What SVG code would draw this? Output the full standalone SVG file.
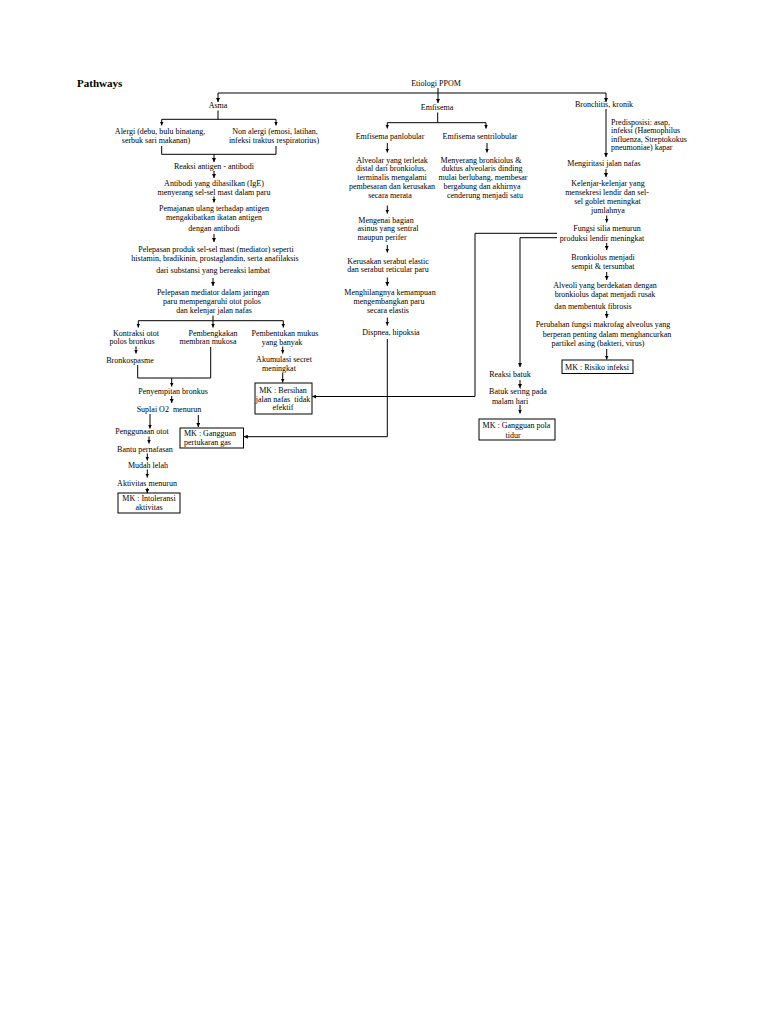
<svg xmlns="http://www.w3.org/2000/svg" width="768" height="1024" viewBox="0 0 768 1024">
<defs>
<marker id="ah" viewBox="0 0 6 6" refX="6" refY="3" markerWidth="4" markerHeight="4" markerUnits="userSpaceOnUse" orient="auto"><path d="M0,0 L6,3 L0,6 z" fill="#000"/></marker>
<style>
text{font-family:"Liberation Serif","Times New Roman",serif;font-size:8px;fill:#000;text-anchor:middle}
.s{text-anchor:start}
.title{font-size:11px;font-weight:bold;text-anchor:start}
.box{fill:#fff;stroke:#000;stroke-width:1}
#connectors path{fill:none;stroke:#000;stroke-width:1}
.a{marker-end:url(#ah)}
</style>
</defs>
<rect width="768" height="1024" fill="#fff"/>
<text class="title" x="77" y="87">Pathways</text>

<g id="connectors">
<path d="M218,93 H606"/>
<path class="a" d="M218,93 V102"/>
<path class="a" d="M606,93 V102"/>
<path class="a" d="M438,88 V103"/>
<path d="M218,110.5 V119.3 M161.7,119.3 H276"/>
<path class="a" d="M161.7,119.3 V125.5"/>
<path class="a" d="M276,119.3 V125.5"/>
<path d="M161.7,146 V154.3 H276 V146"/>
<path class="a" d="M214,154.3 V162"/>
<path class="a" d="M214,171 V178"/>
<path class="a" d="M214,196.5 V202.5"/>
<path class="a" d="M214,234 V242"/>
<path class="a" d="M213,278 V286"/>
<path d="M213,315.5 V320.7 M138.3,320.7 H283.3"/>
<path class="a" d="M138.3,320.7 V327.5"/>
<path class="a" d="M213,320.7 V327.5"/>
<path class="a" d="M283.3,320.7 V327.5"/>
<path class="a" d="M136,346.5 V353.5"/>
<path d="M137.7,365 V378 H210.7 V347"/>
<path class="a" d="M171.7,378 V386.5"/>
<path class="a" d="M171.7,396 V403"/>
<path class="a" d="M150,414 V428.5"/>
<path class="a" d="M198.3,415 V427"/>
<path class="a" d="M149,436.5 V443.5"/>
<path class="a" d="M147.3,453.5 V460.5"/>
<path class="a" d="M147.3,469.5 V477.5"/>
<path class="a" d="M147.3,488 V493"/>
<path class="a" d="M282.7,346.5 V353.5"/>
<path class="a" d="M282.7,373 V382.5"/>
<path d="M437.7,112.5 V122.7 M387.3,122.7 H486"/>
<path class="a" d="M387.3,122.7 V128.5"/>
<path class="a" d="M486,122.7 V128.5"/>
<path class="a" d="M387.3,143 V152.5"/>
<path class="a" d="M487,143 V152.5"/>
<path class="a" d="M387.3,205.5 V213.5"/>
<path class="a" d="M387.3,245 V252.5"/>
<path class="a" d="M387.3,277.5 V286"/>
<path class="a" d="M387.3,317.5 V325.5"/>
<path class="a" d="M387.3,339 V436.7 H243.8"/>
<path class="a" d="M606,109 V157"/>
<path class="a" d="M606,169 V177"/>
<path class="a" d="M606.7,215.5 V222.5"/>
<path class="a" d="M606.7,243 V250"/>
<path class="a" d="M606.7,272 V280"/>
<path class="a" d="M606.7,311 V318"/>
<path class="a" d="M606.7,349 V359.5"/>
<path class="a" d="M557,233.3 H475 V396.5 H312.2"/>
<path class="a" d="M557,237.7 H520 V367"/>
<path class="a" d="M520,380 V388"/>
<path class="a" d="M520,405 V413.5"/>
</g>

<g id="n-etiologi"><text x="436" y="86">Etiologi PPOM</text></g>
<g id="n-asma"><text x="218" y="108">Asma</text></g>
<g id="n-emfisema"><text x="437" y="110">Emfisema</text></g>
<g id="n-bronchitis"><text x="604" y="107">Bronchitis, kronik</text></g>

<g id="n-alergi"><text x="160" y="134">Alergi (debu, bulu binatang,</text><text x="156" y="142.5">serbuk sari makanan)</text></g>
<g id="n-nonalergi"><text x="275" y="134">Non alergi (emosi, latihan,</text><text x="274" y="142.5">infeksi traktus respiratorius)</text></g>
<g id="n-reaksi"><text x="214" y="169">Reaksi antigen - antibodi</text></g>
<g id="n-antibodi"><text x="214" y="186">Antibodi yang dihasilkan (IgE)</text><text x="214" y="194.5">menyerang sel-sel mast dalam paru</text></g>
<g id="n-pemajanan"><text x="214" y="210.5">Pemajanan ulang terhadap antigen</text><text x="214" y="220">mengakibatkan ikatan antigen</text><text x="214" y="231">dengan antibodi</text></g>
<g id="n-pelepasan1"><text x="216" y="251.5">Pelepasan produk sel-sel mast (mediator) seperti</text><text x="215" y="261">histamin, bradikinin, prostaglandin, serta anafilaksis</text><text x="213" y="272.5">dari substansi yang bereaksi lambat</text></g>
<g id="n-pelepasan2"><text x="213" y="294.5">Pelepasan mediator dalam jaringan</text><text x="212" y="303.5">paru mempengaruhi otot polos</text><text x="214" y="313">dan kelenjar jalan nafas</text></g>
<g id="n-kontraksi"><text x="136" y="335.5">Kontraksi otot</text><text x="132" y="344">polos bronkus</text></g>
<g id="n-bronkospasme"><text x="130" y="362.5">Bronkospasme</text></g>
<g id="n-pembengkakan"><text x="213" y="335.5">Pembengkakan</text><text x="208" y="344">membran mukosa</text></g>
<g id="n-pembentukan"><text x="285" y="335.5">Pembentukan mukus</text><text x="282" y="344.5">yang banyak</text></g>
<g id="n-akumulasi"><text x="284" y="362">Akumulasi secret</text><text x="279" y="370.5">meningkat</text></g>
<g id="n-bersihan"><rect class="box" x="255" y="383" width="57" height="31"/><text x="283" y="392.5">MK : Bersihan</text><text x="283" y="401.5" style="white-space:pre">jalan nafas  tidak</text><text x="283" y="410">efektif</text></g>
<g id="n-penyempitan"><text x="173" y="393.5">Penyempitan bronkus</text></g>
<g id="n-suplai"><text x="169" y="412" style="white-space:pre">Suplai O2  menurun</text></g>
<g id="n-penggunaan"><text x="142" y="434">Penggunaan otot</text></g>
<g id="n-gangguan-gas"><rect class="box" x="180" y="428" width="63.5" height="20"/><text class="s" x="184" y="436">MK : Gangguan</text><text class="s" x="184" y="445">pertukaran gas</text></g>
<g id="n-bantu"><text x="145" y="451.5">Bantu pernafasan</text></g>
<g id="n-mudah"><text x="148" y="467.5">Mudah lelah</text></g>
<g id="n-aktivitas"><text x="147" y="486">Aktivitas menurun</text></g>
<g id="n-intoleransi"><rect class="box" x="118" y="493" width="62" height="20"/><text x="149" y="501">MK : Intoleransi</text><text x="149" y="510">aktivitas</text></g>

<g id="n-panlobular"><text x="390" y="138.5">Emfisema panlobular</text></g>
<g id="n-sentrilobular"><text x="480" y="138.5">Emfisema sentrilobular</text></g>
<g id="n-alveolar"><text x="392" y="162.5">Alveolar yang terletak</text><text x="391" y="171">distal dari bronkiolus,</text><text x="392" y="180">terminalis mengalami</text><text x="392" y="188.5">pembesaran dan kerusakan</text><text x="390" y="197.5">secara merata</text></g>
<g id="n-menyerang"><text x="481" y="162.5">Menyerang bronkiolus &amp;</text><text x="482" y="171">duktus alveolaris dinding</text><text x="483" y="180">mulai berlubang, membesar</text><text x="482" y="188.5">bergabung dan akhirnya</text><text x="485" y="197.5">cenderung menjadi satu</text></g>
<g id="n-mengenai"><text x="386" y="222.5">Mengenai bagian</text><text x="388" y="231">asinus yang sentral</text><text x="382" y="239.5">maupun perifer</text></g>
<g id="n-kerusakan"><text x="388" y="263.5">Kerusakan serabut elastic</text><text x="388" y="272">dan serabut reticular paru</text></g>
<g id="n-menghilangnya"><text x="390" y="295">Menghilangnya kemampuan</text><text x="389" y="303.5">mengembangkan paru</text><text x="388" y="312.5">secara elastis</text></g>
<g id="n-dispnea"><text x="391" y="335">Dispnea, hipoksia</text></g>

<g id="n-predisposisi"><text class="s" x="611" y="124.5">Predisposisi: asap,</text><text class="s" x="611" y="133">infeksi (Haemophilus</text><text class="s" x="611" y="141.5">influenza, Streptokokus</text><text class="s" x="611" y="150">pneumoniae) kapar</text></g>
<g id="n-mengiritasi"><text x="604" y="166">Mengiritasi jalan nafas</text></g>
<g id="n-kelenjar"><text x="608" y="185.5">Kelenjar-kelenjar yang</text><text x="607" y="194.5">mensekresi lendir dan sel-</text><text x="607.5" y="203.5">sel goblet meningkat</text><text x="608" y="213">jumlahnya</text></g>
<g id="n-fungsi"><text x="607" y="230.5">Fungsi silia menurun</text><text x="602" y="241">produksi lendir meningkat</text></g>
<g id="n-bronkiolus"><text x="603" y="260">Bronkiolus menjadi</text><text x="603" y="269">sempit &amp; tersumbat</text></g>
<g id="n-alveoli"><text x="605" y="288">Alveoli yang berdekatan dengan</text><text x="605" y="297">bronkiolus dapat menjadi rusak</text><text x="593" y="309">dan membentuk fibrosis</text></g>
<g id="n-perubahan"><text x="603" y="327">Perubahan fungsi makrofag alveolus yang</text><text x="607" y="337">berperan penting dalam menghancurkan</text><text x="598" y="346">partikel asing (bakteri, virus)</text></g>
<g id="n-risiko"><rect class="box" x="562" y="360" width="71" height="13.5"/><text x="597" y="369.5">MK : Risiko infeksi</text></g>
<g id="n-reaksibatuk"><text x="510" y="377">Reaksi batuk</text></g>
<g id="n-batuk"><text x="518" y="394">Batuk sering pada</text><text x="510" y="403.5">malam hari</text></g>
<g id="n-pola"><rect class="box" x="479" y="419" width="76" height="21"/><text x="516.5" y="428">MK : Gangguan pola</text><text x="513" y="437.5">tidur</text></g>
</svg>
